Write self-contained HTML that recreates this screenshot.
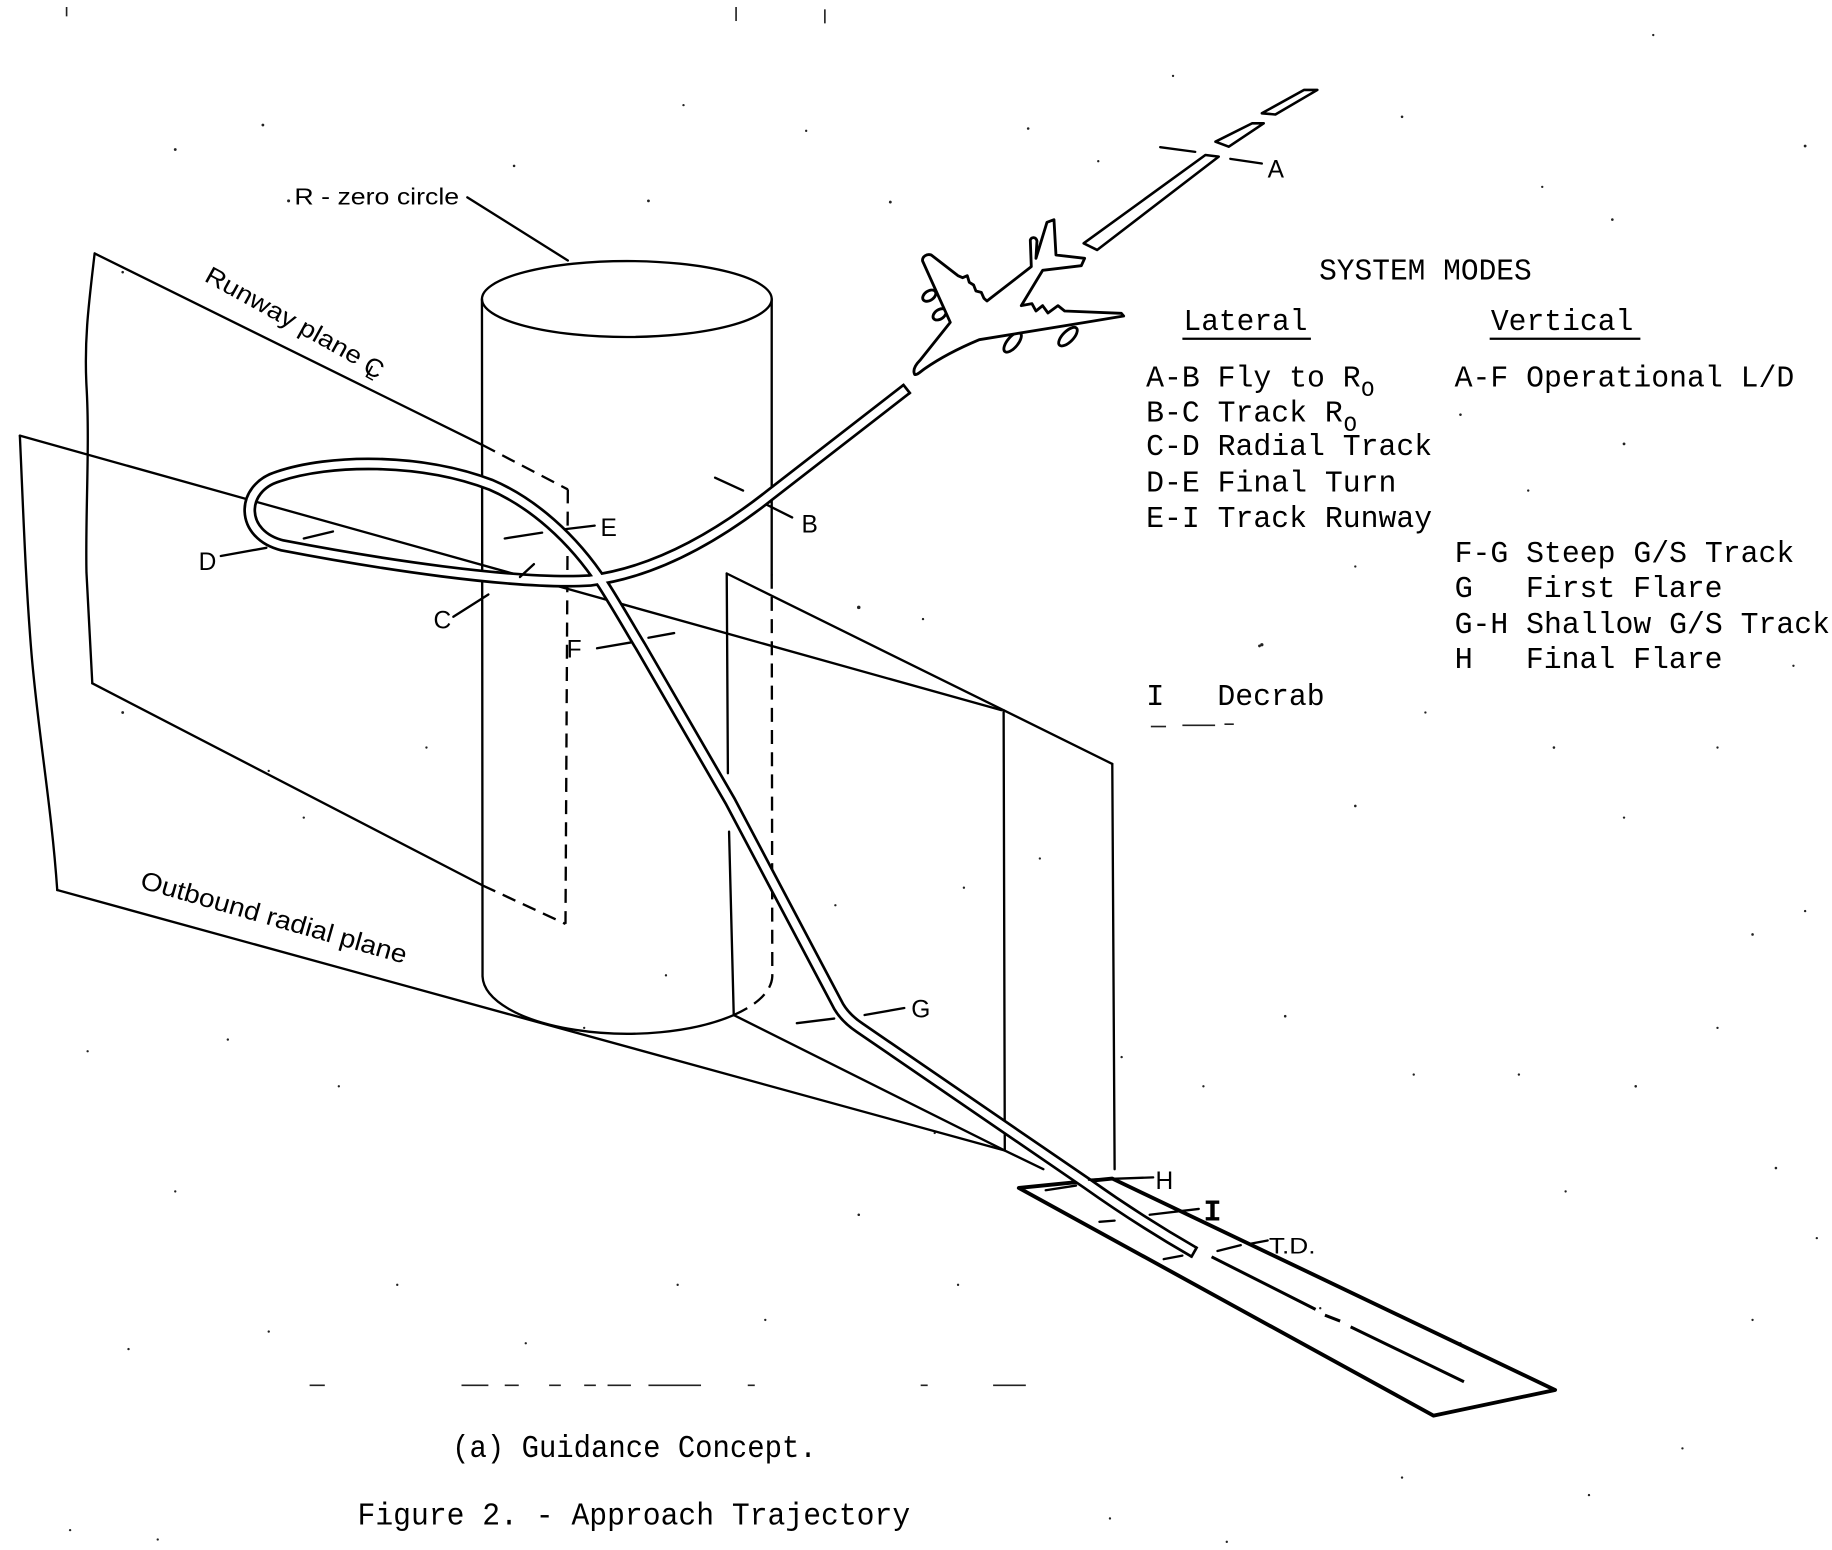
<!DOCTYPE html>
<html>
<head>
<meta charset="utf-8">
<style>
html,body{margin:0;padding:0;background:#fff;}
svg{display:block;}
.mono{font-family:"Liberation Mono","DejaVu Sans Mono",monospace;}
.sans{font-family:"Liberation Sans","DejaVu Sans",sans-serif;}
</style>
</head>
<body>
<svg width="1832" height="1550" viewBox="0 0 1568 1327" preserveAspectRatio="none" xmlns="http://www.w3.org/2000/svg">
<rect x="0" y="0" width="1568" height="1327" fill="#fff"/>

<!-- noise specks -->
<g fill="#222">
<circle cx="150" cy="128" r="1.2"/><circle cx="225" cy="107" r="1.2"/><circle cx="105" cy="233" r="1.1"/>
<circle cx="440" cy="142" r="1.1"/><circle cx="555" cy="172" r="1.2"/><circle cx="585" cy="90" r="1"/>
<circle cx="690" cy="112" r="1"/><circle cx="762" cy="173" r="1.2"/><circle cx="880" cy="110" r="1.1"/>
<circle cx="940" cy="138" r="1"/><circle cx="1004" cy="65" r="1"/><circle cx="1200" cy="100" r="1.1"/>
<circle cx="1320" cy="160" r="1"/><circle cx="1380" cy="188" r="1.1"/><circle cx="1415" cy="30" r="1"/>
<circle cx="1545" cy="125" r="1.2"/><circle cx="1250" cy="355" r="1.1"/><circle cx="1390" cy="380" r="1.2"/>
<circle cx="1308" cy="420" r="1"/><circle cx="1160" cy="485" r="1"/><circle cx="1440" cy="500" r="1.1"/>
<circle cx="1535" cy="570" r="1"/><circle cx="1080" cy="552" r="1.4"/><circle cx="1160" cy="690" r="1.1"/>
<circle cx="1220" cy="610" r="1"/><circle cx="1330" cy="640" r="1.1"/><circle cx="1390" cy="700" r="1"/>
<circle cx="1470" cy="640" r="1"/><circle cx="1500" cy="800" r="1.1"/><circle cx="1545" cy="780" r="1"/>
<circle cx="1400" cy="930" r="1.1"/><circle cx="1470" cy="880" r="1"/><circle cx="1520" cy="1000" r="1.1"/>
<circle cx="1300" cy="920" r="1"/><circle cx="1210" cy="920" r="1"/><circle cx="1100" cy="870" r="1.1"/>
<circle cx="1030" cy="930" r="1"/><circle cx="960" cy="905" r="1"/><circle cx="800" cy="970" r="1"/>
<circle cx="735" cy="1040" r="1.1"/><circle cx="820" cy="1100" r="1"/><circle cx="655" cy="1130" r="1"/>
<circle cx="580" cy="1100" r="1"/><circle cx="450" cy="1150" r="1"/><circle cx="340" cy="1100" r="1"/>
<circle cx="230" cy="1140" r="1"/><circle cx="110" cy="1155" r="1"/><circle cx="150" cy="1020" r="1"/>
<circle cx="75" cy="900" r="1"/><circle cx="195" cy="890" r="1"/><circle cx="290" cy="930" r="1"/>
<circle cx="230" cy="660" r="1"/><circle cx="260" cy="700" r="1"/><circle cx="105" cy="610" r="1.2"/>
<circle cx="345" cy="400" r="1"/><circle cx="365" cy="640" r="1"/><circle cx="570" cy="835" r="1"/>
<circle cx="500" cy="880" r="1"/><circle cx="715" cy="775" r="1"/><circle cx="825" cy="760" r="1"/>
<circle cx="890" cy="735" r="1"/><circle cx="790" cy="530" r="1"/><circle cx="735" cy="520" r="1.5"/>
<circle cx="1130" cy="1120" r="1"/><circle cx="1250" cy="1150" r="1"/><circle cx="1440" cy="1240" r="1"/>
<circle cx="1360" cy="1280" r="1"/><circle cx="1200" cy="1265" r="1"/><circle cx="950" cy="1300" r="1"/>
<circle cx="1050" cy="1320" r="1"/><circle cx="60" cy="1310" r="1"/><circle cx="135" cy="1318" r="1"/>
<circle cx="1555" cy="1060" r="1"/><circle cx="1500" cy="1130" r="1"/><circle cx="1340" cy="1020" r="1"/>
<circle cx="247" cy="172" r="1.3"/><circle cx="1078" cy="553" r="1.2"/>
</g>
<g stroke="#222" stroke-width="1.4" fill="none">
<line x1="57" y1="6" x2="57" y2="14"/><line x1="630" y1="6" x2="630" y2="18"/><line x1="706" y1="8" x2="706" y2="20"/>
<line x1="265" y1="1186" x2="278" y2="1186"/><line x1="395" y1="1186" x2="418" y2="1186"/>
<line x1="432" y1="1186" x2="444" y2="1186"/><line x1="470" y1="1186" x2="480" y2="1186"/>
<line x1="500" y1="1186" x2="510" y2="1186"/><line x1="520" y1="1186" x2="540" y2="1186"/>
<line x1="555" y1="1186" x2="600" y2="1186"/><line x1="640" y1="1186" x2="646" y2="1186"/>
<line x1="788" y1="1186" x2="794" y2="1186"/><line x1="850" y1="1186" x2="878" y2="1186"/>
<line x1="985" y1="622" x2="998" y2="622"/><line x1="1012" y1="621" x2="1040" y2="621"/><line x1="1048" y1="620" x2="1056" y2="620"/>
</g>

<g fill="none" stroke="#000" stroke-width="2" stroke-linejoin="round" stroke-linecap="round">
<!-- Runway plane (back) -->
<path d="M81,217 C76,260 72,290 74,330 C77,380 73,440 74,490 L79,585"/>
<path d="M81,217 L413,381"/>
<path d="M413,381 L486,419" stroke-dasharray="12 7" stroke-linecap="butt"/>
<path d="M486,419 L484,791" stroke-dasharray="12 7" stroke-linecap="butt"/>
<path d="M79,585 L413,758"/>
<path d="M413,758 L484,791" stroke-dasharray="12 7" stroke-linecap="butt"/>

<!-- Cylinder -->
<ellipse cx="536.5" cy="256" rx="124" ry="32.5"/>
<path d="M412.5,256 L413,836 A124,50 0 0 0 628,869"/>
<path d="M660.5,256 L660.5,492"/>
<path d="M660.5,492 L661,836 A124,50 0 0 1 628,869" stroke-dasharray="12 7" stroke-linecap="butt"/>
<path d="M400,169 L486,223"/>

<!-- Outbound radial plane -->
<path d="M17,373 C20,440 22,500 27,560 C33,630 44,690 49,762"/>
<path d="M17,373 L857,608"/>
<path d="M49,762 L860,985"/>

<!-- Right plane -->
<path d="M622,491 L952,654"/>
<path d="M622,491 L623,662"/>
<path d="M624,712 L628,869"/>
<path d="M859,608 L860,985"/>
<path d="M952,654 L954,1001"/>
<path d="M628,869 L860,985 L893,1001"/>
</g>

<!-- Runway -->
<g fill="none" stroke="#000" stroke-linejoin="round">
<polygon points="872,1017 952,1009 1331,1190 1227,1212" stroke-width="3.3"/>
<g stroke-width="2.6">
<line x1="1037" y1="1076" x2="1126" y2="1121"/>
<line x1="1134" y1="1126" x2="1147" y2="1131"/>
<line x1="1156" y1="1136" x2="1253" y2="1183"/>
</g>
</g>

<!-- Trajectory -->
<g fill="none" stroke-linejoin="round">
<path d="M776,333 L660,423 C612,461 560,490 505,497 C440,501 320,482 242,467 C205,458 205,418 238,408 C282,393 360,392 420,415 C455,430 490,460 516,500 C530,522 540,540 548,553 L625,686 L718,862 Q724,872 736,880 L930,1013 Q975,1045 1022,1072" stroke="#000" stroke-width="11" stroke-linecap="butt"/>
<path d="M776,333 L660,423 C612,461 560,490 505,497 C440,501 320,482 242,467 C205,458 205,418 238,408 C282,393 360,392 420,415 C455,430 490,460 516,500 C530,522 540,540 548,553 L625,686 L718,862 Q724,872 736,880 L930,1013 Q975,1045 1022,1072" stroke="#fff" stroke-width="6.4" stroke-linecap="butt"/>
<line x1="779.4" y1="337.3" x2="772.6" y2="328.7" stroke="#000" stroke-width="2.3"/>
<line x1="1019.3" y1="1076.8" x2="1024.7" y2="1067.2" stroke="#000" stroke-width="2.3"/>
</g>

<!-- Upper trajectory segments -->
<g fill="#fff" stroke="#000" stroke-width="2.2" stroke-linejoin="round">
<polygon points="1080,97 1116,77 1127.5,77 1091.6,98"/>
<polygon points="1040.3,121.3 1071.6,105.6 1081.6,105.6 1051.7,125.6"/>
<polygon points="927.5,208.3 1031.7,132.7 1043.1,134.1 939,214"/>
</g>

<!-- Airplane -->
<g transform="translate(774.8,175.5) scale(0.2854)" fill="#fff" stroke="#000" stroke-width="8.5" stroke-linejoin="round">
<ellipse cx="72" cy="272" rx="22" ry="14" transform="rotate(-35 72 272)"/>
<ellipse cx="103" cy="328" rx="22" ry="14" transform="rotate(-35 103 328)"/>
<ellipse cx="322" cy="412" rx="36" ry="16" transform="rotate(-50 322 412)"/>
<ellipse cx="488" cy="395" rx="36" ry="16" transform="rotate(-45 488 395)"/>
<path d="M28,508 C22,495 30,480 45,465 L135,352 L52,168 C50,155 65,145 78,150 L158,212 L172,218 L186,212 L192,232 L205,240 L212,258 L228,262 L236,280 L245,288 L378,185 L375,105 C378,95 392,95 395,108 L392,160 L425,52 L446,44 L452,150 L538,160 L528,182 L412,196 L348,302 L380,296 L392,318 L412,302 L428,324 L458,302 L478,318 L648,325 L655,333 L540,352 L222,404 C160,430 100,462 60,490 C45,500 35,512 28,508 Z"/>
</g>

<!-- Tick marks / leaders -->
<g stroke="#000" stroke-width="2" stroke-linecap="round" fill="none">
<line x1="993" y1="126" x2="1023" y2="130"/><line x1="1053" y1="136" x2="1080" y2="140"/>
<line x1="612" y1="409" x2="636" y2="420"/><line x1="656" y1="432" x2="678" y2="443"/>
<line x1="388" y1="528" x2="418" y2="509"/><line x1="445" y1="494" x2="457" y2="483"/>
<line x1="189" y1="476" x2="228" y2="469"/><line x1="260" y1="461" x2="285" y2="455"/>
<line x1="432" y1="461" x2="464" y2="456"/><line x1="484" y1="453" x2="509" y2="450"/>
<line x1="511" y1="555" x2="540" y2="550"/><line x1="555" y1="546" x2="577" y2="542"/>
<line x1="682" y1="876" x2="714" y2="872"/><line x1="740" y1="869" x2="774" y2="863"/>
<line x1="895" y1="1019" x2="921" y2="1015"/><line x1="932" y1="1010" x2="987" y2="1008"/>
<line x1="941" y1="1046" x2="954" y2="1045"/><line x1="984" y1="1040" x2="1026" y2="1035"/>
<line x1="996" y1="1078" x2="1012" y2="1075"/><line x1="1042" y1="1071" x2="1062" y2="1066"/><line x1="1069" y1="1065" x2="1085" y2="1062"/>
<!-- underlines -->
<line x1="1012" y1="290" x2="1122" y2="290" stroke-linecap="butt"/>
<line x1="1275" y1="290" x2="1404" y2="290" stroke-linecap="butt"/>
</g>

<!-- Labels (sans) -->
<g class="sans" font-size="21" fill="#000">
<text x="1085" y="152">A</text>
<text x="686" y="456">B</text>
<text x="371" y="538">C</text>
<text x="170" y="488">D</text>
<text x="514" y="459">E</text>
<text x="485" y="563">F</text>
<text x="780" y="871">G</text>
<text x="989" y="1018">H</text>
<text x="1086" y="1073" font-size="19" textLength="40" lengthAdjust="spacingAndGlyphs">T.D.</text>
<text x="252" y="175" font-size="20" textLength="141" lengthAdjust="spacingAndGlyphs">R - zero circle</text>
<g transform="translate(174,240) rotate(29)">
<text x="0" y="0" font-size="21" textLength="150" lengthAdjust="spacingAndGlyphs">Runway plane</text>
<text x="156" y="2" font-size="22">C</text>
<text x="160" y="5" font-size="16">L</text>
</g>
<g transform="translate(119,760) rotate(16)">
<text x="0" y="0" font-size="22" textLength="236" lengthAdjust="spacingAndGlyphs">Outbound radial plane</text>
</g>
</g>
<text x="1030" y="1045" class="mono" font-size="26" fill="#000" font-weight="bold">I</text>

<!-- System modes (mono) -->
<g class="mono" font-size="26" fill="#000">
<text x="1129" y="239.5" textLength="182" lengthAdjust="spacingAndGlyphs">SYSTEM MODES</text>
<text x="1013" y="282.5" textLength="106" lengthAdjust="spacingAndGlyphs">Lateral</text>
<text x="1276" y="282.5" textLength="122" lengthAdjust="spacingAndGlyphs">Vertical</text>

<text x="981" y="331" textLength="183.6" lengthAdjust="spacingAndGlyphs">A-B Fly to R</text>
<text x="1165" y="339" font-size="19">O</text>
<text x="1245" y="331" textLength="290.7" lengthAdjust="spacingAndGlyphs">A-F Operational L/D</text>

<text x="981" y="361" textLength="168.3" lengthAdjust="spacingAndGlyphs">B-C Track R</text>
<text x="1150" y="369" font-size="19">O</text>

<text x="981" y="389.5" textLength="244.8" lengthAdjust="spacingAndGlyphs">C-D Radial Track</text>
<text x="981" y="421" textLength="214.2" lengthAdjust="spacingAndGlyphs">D-E Final Turn</text>
<text x="981" y="451" textLength="244.8" lengthAdjust="spacingAndGlyphs">E-I Track Runway</text>

<text x="1245" y="481" textLength="290.7" lengthAdjust="spacingAndGlyphs">F-G Steep G/S Track</text>
<text x="1245" y="511">G</text>
<text x="1306" y="511" textLength="168.3" lengthAdjust="spacingAndGlyphs">First Flare</text>
<text x="1245" y="542" textLength="321.3" lengthAdjust="spacingAndGlyphs">G-H Shallow G/S Track</text>
<text x="1245" y="572">H</text>
<text x="1306" y="572" textLength="168.3" lengthAdjust="spacingAndGlyphs">Final Flare</text>

<text x="981" y="603.5">I</text>
<text x="1042" y="603.5" textLength="91.8" lengthAdjust="spacingAndGlyphs">Decrab</text>

<!-- captions -->
<text x="387" y="1247.5" font-size="27" textLength="312" lengthAdjust="spacingAndGlyphs">(a) Guidance Concept.</text>
<text x="306" y="1305" font-size="27" textLength="473" lengthAdjust="spacingAndGlyphs">Figure 2. - Approach Trajectory</text>
</g>
</svg>
</body>
</html>
